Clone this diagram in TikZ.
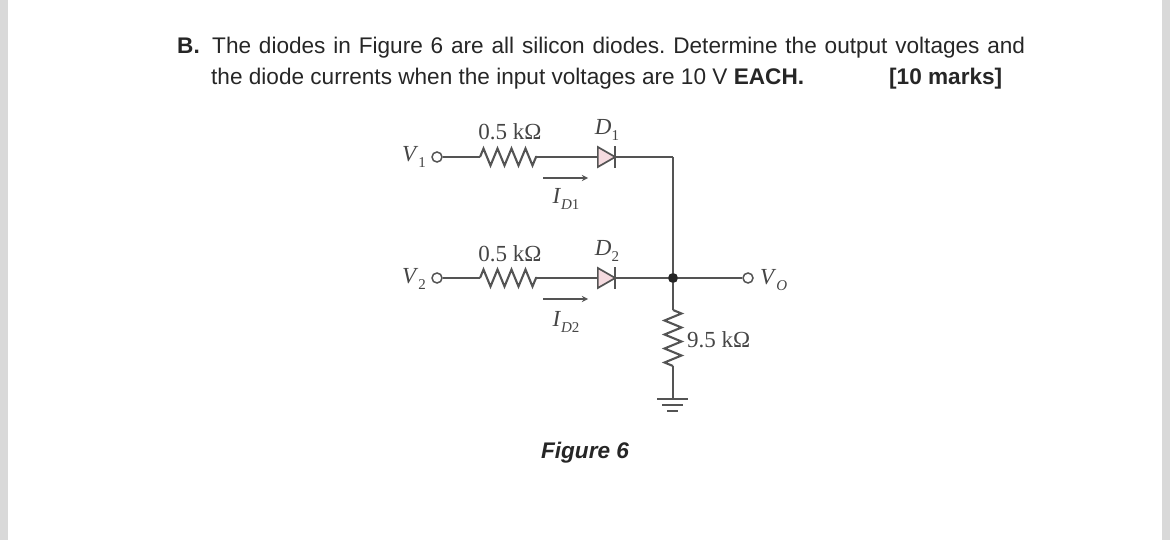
\documentclass[tikz,border=0pt]{standalone}
\usepackage{fontspec}
\setmainfont{Liberation Sans}
\newfontfamily\labelfont{Liberation Serif}
\usepackage{tikz}
\usetikzlibrary{backgrounds,shapes.geometric,decorations.pathmorphing}
\frenchspacing
\definecolor{wiregray}{rgb}{0.33,0.33,0.33}
\definecolor{textgray}{rgb}{0.27,0.27,0.27}
\definecolor{diodepink}{rgb}{0.96,0.86,0.88}
\definecolor{stripgray}{rgb}{0.85,0.85,0.85}
\pgfdeclarelayer{edgelayer}
\pgfdeclarelayer{nodelayer}
\pgfsetlayers{edgelayer,nodelayer,main}
\newcommand{\sym}[2]{\textit{#1}\raisebox{-0.28em}{\fontsize{15}{15}\selectfont\textit{#2}}}
\newcommand{\symup}[2]{\textit{#1}\raisebox{-0.28em}{\fontsize{15}{15}\selectfont #2}}
\tikzstyle{none}=[inner sep=0pt,minimum size=0pt]
\tikzstyle{wire}=[-,draw=wiregray,line width=2.1]
\tikzstyle{res}=[wire,decorate,decoration={zigzag,segment length=14,amplitude=8.5}]
\tikzstyle{currentarrow}=[-stealth,draw=wiregray,line width=1.7,shorten >=-1]
\tikzstyle{terminal}=[circle,fill=white,draw=wiregray,line width=1.5,inner sep=0pt,minimum size=10]
\tikzstyle{junction}=[circle,fill=black!85,inner sep=0pt,minimum size=10]
\tikzstyle{diode}=[isosceles triangle,isosceles triangle apex angle=60,fill=diodepink,draw=wiregray,line width=1.7,inner sep=0pt,minimum height=17,minimum width=20,anchor=lower side]
\tikzstyle{diodebar}=[rectangle,fill=wiregray,inner sep=0pt,minimum width=2,minimum height=22]
\tikzstyle{lbl}=[inner sep=0pt,text=textgray,font=\labelfont\fontsize{23}{25}\selectfont]
\tikzstyle{question}=[inner sep=0pt,anchor=base west,text=black!85,font=\fontsize{22.6}{27}\selectfont]

\begin{document}
\begin{tikzpicture}[x=1pt,y=-1pt]
	\useasboundingbox (0,0) rectangle (1170,540);
	\fill [stripgray] (0,0) rectangle (8,540);
	\fill [stripgray] (1162,0) rectangle (1170,540);

	\begin{pgfonlayer}{nodelayer}
		\node [style=question] (B) at (177,54) {\textbf{B.}};
		\node [style=question] (line1) at (212,54) {\makebox[813pt][s]{The diodes in Figure 6 are all silicon diodes. Determine the output voltages and}};
		\node [style=question] (line2) at (211,85) {the diode currents when the input voltages are 10 V \textbf{EACH.}};
		\node [style=question] (marks) at (889,85) {\textbf{[10 marks]}};

		\node [style=terminal] (V1) at (437,157) {};
		\node [style=none] (R1l) at (480,157) {};
		\node [style=none] (R1r) at (537,157) {};
		\node [style=diode] (D1) at (597,157) {};
		\node [style=diodebar] (D1b) at (615,157) {};
		\node [style=none] (corner) at (673,157) {};

		\node [style=terminal] (V2) at (437,278) {};
		\node [style=none] (R2l) at (480,278) {};
		\node [style=none] (R2r) at (537,278) {};
		\node [style=diode] (D2) at (597,278) {};
		\node [style=diodebar] (D2b) at (615,278) {};
		\node [style=junction] (J) at (673,278) {};
		\node [style=terminal] (VO) at (748,278) {};

		\node [style=none] (R3t) at (673,310) {};
		\node [style=none] (R3b) at (673,366) {};
		\node [style=none] (G1l) at (657,399) {};
		\node [style=none] (G1c) at (673,399) {};
		\node [style=none] (G1r) at (688,399) {};
		\node [style=none] (G2l) at (662,405) {};
		\node [style=none] (G2r) at (683,405) {};
		\node [style=none] (G3l) at (667,411) {};
		\node [style=none] (G3r) at (678,411) {};

		\node [style=none] (A1l) at (543,178) {};
		\node [style=none] (A1r) at (587,178) {};
		\node [style=none] (A2l) at (543,299) {};
		\node [style=none] (A2r) at (587,299) {};

		\node [style=lbl,anchor=west] (V1t) at (402,157) {\symup{V}{1}};
		\node [style=lbl,anchor=west] (V2t) at (402,279) {\symup{V}{2}};
		\node [style=lbl,anchor=west] (VOt) at (760,280) {\sym{V}{O}};
		\node [style=lbl] (R1t) at (510,132) {0.5 kΩ};
		\node [style=lbl] (R2t) at (510,254) {0.5 kΩ};
		\node [style=lbl,anchor=west] (R3l) at (687,340) {9.5 kΩ};
		\node [style=lbl] (D1t) at (607,130) {\symup{D}{1}};
		\node [style=lbl] (D2t) at (607,251) {\symup{D}{2}};
		\node [style=lbl] (I1t) at (566,199) {\textit{I}\raisebox{-0.28em}{\fontsize{15}{15}\selectfont\textit{D}1}};
		\node [style=lbl] (I2t) at (566,322) {\textit{I}\raisebox{-0.28em}{\fontsize{15}{15}\selectfont\textit{D}2}};

		\node [inner sep=0pt,font=\bfseries\itshape\fontsize{22.6}{27}\selectfont,text=black!85] (fig) at (585,453) {Figure 6};
	\end{pgfonlayer}
	\begin{pgfonlayer}{edgelayer}
		\draw [style=wire] (V1) to (R1l.center);
		\draw [style=res] (R1l.center) -- (R1r.center);
		\draw [style=wire] (R1r.center) to (D1.lower side);
		\draw [style=wire] (D1.apex) to (D1b);
		\draw [style=wire] (D1b) to (corner.center);
		\draw [style=wire] (corner.center) to (J);
		\draw [style=wire] (V2) to (R2l.center);
		\draw [style=res] (R2l.center) -- (R2r.center);
		\draw [style=wire] (R2r.center) to (D2.lower side);
		\draw [style=wire] (D2.apex) to (D2b);
		\draw [style=wire] (D2b) to (J);
		\draw [style=wire] (J) to (VO);
		\draw [style=wire] (J) to (R3t.center);
		\draw [style=res] (R3t.center) -- (R3b.center);
		\draw [style=wire] (R3b.center) to (G1c.center);
		\draw [style=wire] (G1l.center) to (G1r.center);
		\draw [style=wire] (G2l.center) to (G2r.center);
		\draw [style=wire] (G3l.center) to (G3r.center);
		\draw [style=currentarrow] (A1l.center) to (A1r.center);
		\draw [style=currentarrow] (A2l.center) to (A2r.center);
	\end{pgfonlayer}
\end{tikzpicture}
\end{document}
